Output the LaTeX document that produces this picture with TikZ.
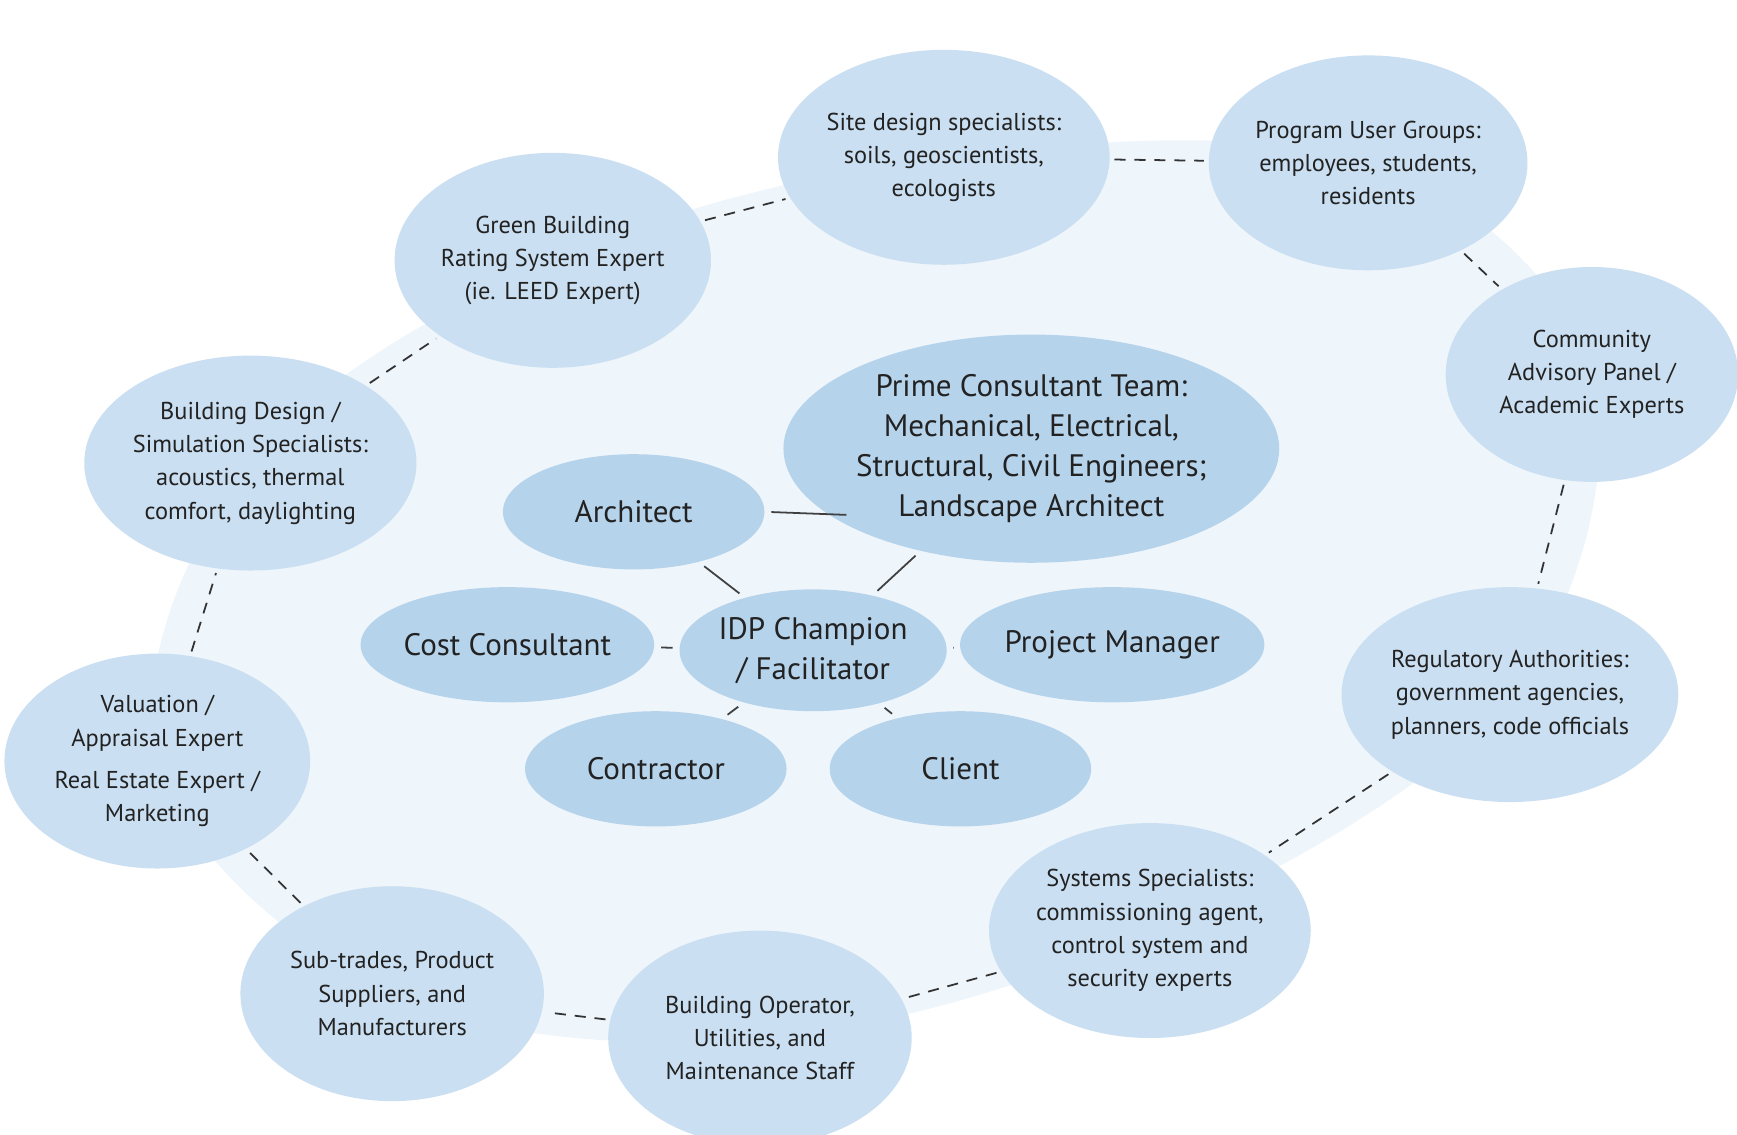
\documentclass[tikz,border=0pt]{standalone}
\usepackage{fontspec}
\setmainfont{PT Sans}
\usetikzlibrary{shapes.geometric}
\definecolor{bgblue}{HTML}{EEF5FB}
\definecolor{outerblue}{HTML}{CADFF1}
\definecolor{innerblue}{HTML}{B6D3EC}
\definecolor{txt}{HTML}{222222}
\tikzset{
 outer/.style={ellipse,fill=outerblue,inner sep=0pt,minimum width=137pt,minimum height=97pt,align=center,font=\fontsize{11}{15}\selectfont,text=txt},
 inner/.style={ellipse,fill=innerblue,inner sep=0pt,minimum width=118pt,minimum height=52pt,align=center,font=\fontsize{14}{18}\selectfont,text=txt},
 ring/.style={dashed,dash pattern=on 5pt off 4pt,thick,draw=black!80,shorten <=2pt,shorten >=2pt},
 spoke/.style={thick,draw=black!75,shorten <=3pt,shorten >=3pt}
}
\begin{document}
\begin{tikzpicture}[x=0.5pt,y=-0.5pt]
\useasboundingbox (0,0) rectangle (1568,1024);
\fill[white] (0,0) rectangle (1568,1024);
\fill[bgblue] plot[smooth cycle,tension=0.6] coordinates {(852,142) (1235,147) (1437,338) (1363,627) (1038,840) (686,937) (354,897) (142,687) (226,418) (499,235)};
\node[outer] (site) at (852,142) {Site design specialists:\\soils, geoscientists,\\ecologists};
\node[outer] (prog) at (1235,147) {Program User Groups:\\employees, students,\\residents};
\node[outer,minimum width=132pt] (comm) at (1437,338) {Community\\Advisory Panel /\\Academic Experts};
\node[outer] (reg) at (1363,627) {Regulatory Authorities:\\government agencies,\\planners, code officials};
\node[outer] (sys) at (1038,840) {Systems Specialists:\\commissioning agent,\\control system and\\security experts};
\node[outer] (op) at (686,937) {Building Operator,\\Utilities, and\\Maintenance Staff};
\node[outer] (sub) at (354,897) {Sub-trades, Product\\Suppliers, and\\Manufacturers};
\node[outer,minimum width=138pt] (val) at (142,687) {Valuation /\\Appraisal Expert\\[4pt]Real Estate Expert /\\Marketing};
\node[outer] (bd) at (226,418) {Building Design /\\Simulation Specialists:\\acoustics, thermal\\comfort, daylighting};
\node[outer] (gb) at (499,235) {Green Building\\Rating System Expert\\(ie. LEED Expert)};
\foreach \a/\b in {gb/site,site/prog,prog/comm,comm/reg,reg/sys,sys/op,op/sub,sub/val,val/bd,bd/gb}
  \draw[ring] (\a) -- (\b);
\node[inner,minimum width=193pt,minimum height=103pt] (prime) at (931,405) {Prime Consultant Team:\\Mechanical, Electrical,\\Structural, Civil Engineers;\\Landscape Architect};
\node[inner] (arch) at (572,462) {Architect};
\node[inner] (cost) at (458,582) {Cost Consultant};
\node[inner,minimum height=55pt] (idp) at (734,587) {IDP Champion\\/ Facilitator};
\node[inner] (pm) at (1004,582) {Project Manager};
\node[inner] (con) at (592,694) {Contractor};
\node[inner] (cli) at (867,694) {Client};
\coordinate (pw) at (770,465);
\draw[spoke] (arch.east) -- (pw);
\foreach \n in {arch,prime,cost,pm,con,cli} \draw[spoke] (idp) -- (\n);
\end{tikzpicture}
\end{document}
